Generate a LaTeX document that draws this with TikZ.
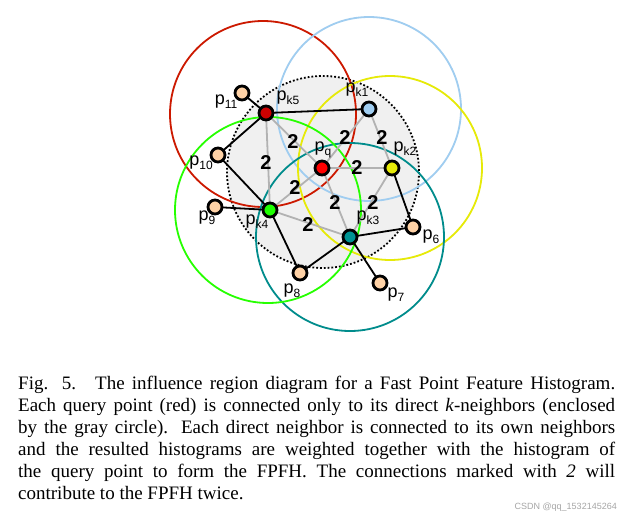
\documentclass[tikz,border=0pt]{standalone}
\usepackage{fontspec}
\setmainfont{Liberation Serif}
\newfontfamily\arialf{Liberation Sans}
\definecolor{skyb}{RGB}{160,205,240}
\newcommand{\psub}[1]{\raisebox{-0.35ex}{\fontsize{12}{12}\selectfont #1}}
\begin{document}
\begin{tikzpicture}[x=1pt,y=-1pt,
 pt/.style={circle,draw=black,line width=2.8pt,minimum size=14pt,inner sep=0pt},
 ge/.style={draw=gray!60,line width=1.8pt},
 be/.style={draw=black,line width=1.8pt},
 rc/.style={line width=1.8pt},
 lb/.style={font=\arialf\fontsize{18}{18}\selectfont,inner sep=0pt},
 two/.style={font=\arialf\bfseries\fontsize{20}{20}\selectfont,inner sep=0pt}]
\useasboundingbox (0,0) rectangle (631,519);
\fill[white] (0,0) rectangle (631,519);
\fill[gray!12] (323,172) circle (96);
\draw[line width=1.8pt,dotted] (323,172) circle (96);
\draw[rc,red!75!black!80!orange] (263,114) circle (93);
\draw[rc,skyb] (369,109) circle (92);
\draw[rc,yellow!90!green] (390,168) circle (92);
\draw[rc,teal!90!cyan] (350,237) circle (94);
\draw[rc,green!80!lime] (268,210) circle (93);
\coordinate (cq) at (322,168);
\coordinate (c1) at (369,109);
\coordinate (c2) at (392,168);
\coordinate (c3) at (350,237);
\coordinate (c4) at (270,210);
\coordinate (c5) at (266,113);
\coordinate (c11) at (242,93);
\coordinate (c10) at (218,155);
\coordinate (c9) at (215,207);
\coordinate (c8) at (300,273);
\coordinate (c7) at (380,283);
\coordinate (c6) at (413,227);
\draw[ge] (cq)--(c1) (cq)--(c2) (cq)--(c3) (cq)--(c4) (cq)--(c5) (c5)--(c4) (c1)--(c2) (c2)--(c3) (c4)--(c3);
\draw[be] (c5)--(c1) (c5)--(c11) (c5)--(c10) (c10)--(c4) (c9)--(c4) (c4)--(c8) (c8)--(c3) (c3)--(c7) (c3)--(c6) (c6)--(c2);
\node[pt,fill=red] (q) at (cq) {};
\node[pt,fill=skyb] (k1) at (c1) {};
\node[pt,fill=yellow!90!green] (k2) at (c2) {};
\node[pt,fill=teal!85!cyan] (k3) at (c3) {};
\node[pt,fill=green!85!lime] (k4) at (c4) {};
\node[pt,fill=red!80!black] (k5) at (c5) {};
\foreach \n in {11,10,9,8,7,6} \node[pt,fill=orange!35!white] (p\n) at (c\n) {};
\node[lb] (lq) at (323,150) {p\psub{q}};
\node[lb] (l5) at (288,98) {p\psub{k5}};
\node[lb] (l1) at (357,90) {p\psub{k1}};
\node[lb] (l2) at (405,149) {p\psub{k2}};
\node[lb] (l3) at (368,218) {p\psub{k3}};
\node[lb] (l4) at (257,222) {p\psub{k4}};
\node[lb] (l11) at (226,102) {p\psub{11}};
\node[lb] (l10) at (201,163) {p\psub{10}};
\node[lb] (l9) at (207,218) {p\psub{9}};
\node[lb] (l8) at (292,291) {p\psub{8}};
\node[lb] (l7) at (396,295) {p\psub{7}};
\node[lb] (l6) at (431,237) {p\psub{6}};
\foreach \x/\y [count=\i] in {293/142,345/138,382/138,266/163,357/168,295/188,373/203,335/203,308/225}
  \node[two] (t\i) at (\x,\y) {2};
\node[anchor=north west,inner sep=0pt,text width=597pt,align=justify,font=\fontsize{19}{22}\selectfont] (cap) at (18,376)
 {Fig. 5.\quad The influence region diagram for a Fast Point Feature Histogram.\linebreak Each query point (red) is connected only to its direct \textit{k}-neighbors (enclosed\linebreak by the gray circle). Each direct neighbor is connected to its own neighbors\linebreak and the resulted histograms are weighted together with the histogram of\linebreak the query point to form the FPFH. The connections marked with \textit{2} will\linebreak contribute to the FPFH twice.\par};
\node[anchor=south east,inner sep=0pt,text=gray!70,font=\arialf\fontsize{9}{9}\selectfont] (wm) at (617,512) {CSDN @qq\_1532145264};
\end{tikzpicture}
\end{document}
